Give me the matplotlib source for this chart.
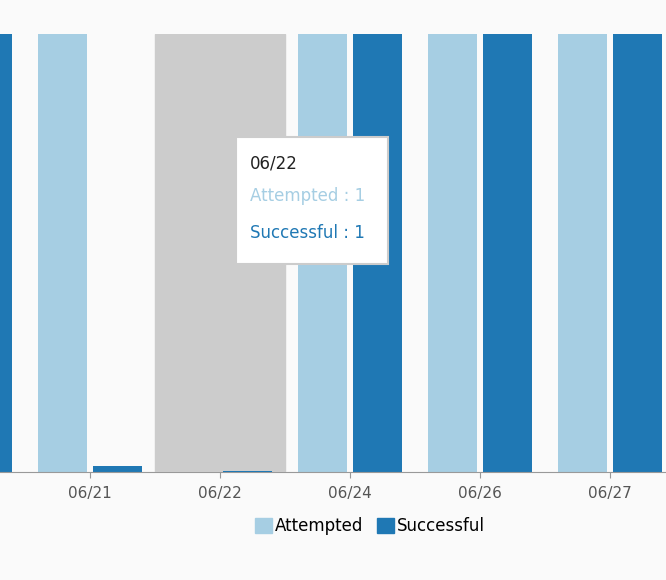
import matplotlib.pyplot as plt
from matplotlib.patches import Rectangle, Patch

categories = ['', '06/21', '06/22', '06/24', '06/26', '06/27']
attempted = [1, 1, 1, 1, 1, 1]
successful = [1, 0.015, 1, 1, 1, 1]

light = '#a6cee3'
dark = '#1f78b4'

fig = plt.figure(figsize=(6.66, 5.8), dpi=100, facecolor='#fafafa')
ax = fig.add_axes([0, 0.186, 665 / 666, 0.755])
ax.set_facecolor('#fafafa')
x = list(range(len(categories)))
ax.bar([i - 0.21 for i in x], attempted, width=0.38, color=light, zorder=2)
ax.bar([i + 0.21 for i in x], successful, width=0.38, color=dark, zorder=2)

# hover highlight over 06/22
ax.add_patch(Rectangle((1.5, 0), 1.0, 1.0, color='#cccccc', zorder=3))
ax.bar([2 + 0.21], [0.003], width=0.38, color=dark, zorder=4)

ax.set_xlim(40 / 130, 705 / 130)
ax.set_ylim(0, 1)
ax.set_xticks(x[1:])
ax.set_xticklabels(categories[1:], fontsize=11, color='#555555')
ax.set_yticks([])
for s in ['top', 'right', 'left']:
    ax.spines[s].set_visible(False)
ax.spines['bottom'].set_color('#999999')
ax.tick_params(axis='x', length=4, color='#999999', pad=6)

# tooltip
fig.patches.append(Rectangle((236 / 666, 1 - 264 / 580), 152 / 666, 127 / 580,
                             transform=fig.transFigure, facecolor='white',
                             edgecolor='#cccccc', lw=1.5, zorder=10))
fig.text(250 / 666, 1 - 163 / 580, '06/22', fontsize=12, color='#222222', va='center', zorder=11)
fig.text(250 / 666, 1 - 196 / 580, 'Attempted : 1', fontsize=12, color=light, va='center', zorder=11)
fig.text(250 / 666, 1 - 233 / 580, 'Successful : 1', fontsize=12, color=dark, va='center', zorder=11)

fig.legend(handles=[Patch(color=light, label='Attempted'), Patch(color=dark, label='Successful')],
           loc='center', bbox_to_anchor=(370 / 666, 1 - 526 / 580), ncol=2, frameon=False,
           fontsize=12, handlelength=1.0, handleheight=1.0, handletextpad=0.2, columnspacing=0.8)

fig.savefig('out.png', dpi=100, facecolor=fig.get_facecolor())
